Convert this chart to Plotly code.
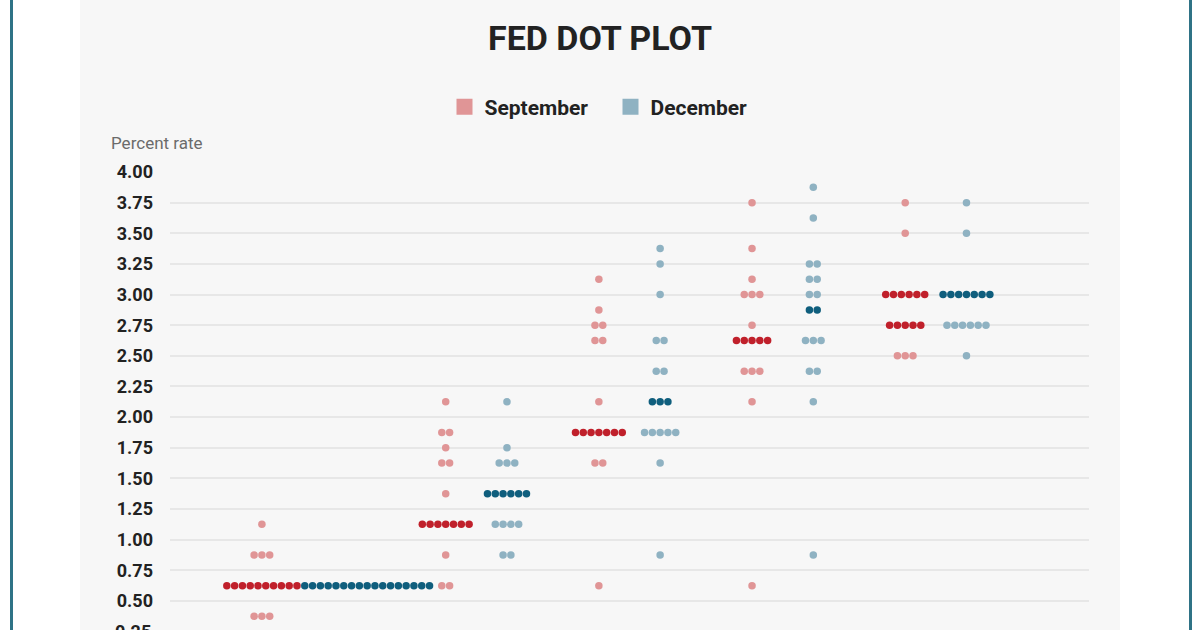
import plotly.graph_objects as go

# ---------------- data ----------------
years = ["2016", "2017", "2018", "2019", "Longer run"]

sept_rates = [
    [0.375, 0.625, 0.875, 1.125],
    [0.625, 0.875, 1.125, 1.375, 1.625, 1.75, 1.875, 2.125],
    [0.625, 1.625, 1.875, 2.125, 2.625, 2.75, 2.875, 3.125],
    [0.625, 2.125, 2.375, 2.625, 2.75, 3.0, 3.125, 3.375, 3.75],
    [2.5, 2.75, 3.0, 3.5, 3.75],
]
sept_counts = [
    [3, 10, 3, 1],
    [2, 1, 7, 1, 2, 1, 2, 1],
    [1, 2, 7, 1, 2, 2, 1, 1],
    [1, 1, 3, 5, 1, 3, 1, 1, 1],
    [3, 5, 6, 1, 1],
]
dec_rates = [
    [0.625],
    [0.875, 1.125, 1.375, 1.625, 1.75, 2.125],
    [0.875, 1.625, 1.875, 2.125, 2.375, 2.625, 3.0, 3.25, 3.375],
    [0.875, 2.125, 2.375, 2.625, 2.875, 3.0, 3.125, 3.25, 3.625, 3.875],
    [2.5, 2.75, 3.0, 3.5, 3.75],
]
dec_counts = [
    [17],
    [2, 4, 6, 3, 1, 1],
    [1, 1, 5, 3, 2, 2, 1, 1, 1],
    [1, 1, 2, 3, 2, 2, 2, 2, 1, 1],
    [1, 6, 7, 1, 1],
]

series_names = ["September", "December"]
light_colors = ["#e09596", "#8fb2c2"]
dark_colors = ["#c0202b", "#0f5e7d"]

# ---------------- layout helpers ----------------
SERIES_OFFSET = 0.2   # Sept left of year centre, Dec right (axis units)
STEP = 0.0509         # horizontal spacing between dots in a row (axis units)


def medians(rates, counts):
    vals = []
    for r, c in zip(rates, counts):
        vals += [r] * c
    vals.sort()
    n = len(vals)
    return {vals[(n - 1) // 2], vals[n // 2]}


def row_span(centre, n):
    return centre - (n - 1) / 2 * STEP, centre + (n - 1) / 2 * STEP


xs = [[], []]
ys = [[], []]
cols = [[], []]
for i in range(len(years)):
    s_map = dict(zip(sept_rates[i], sept_counts[i]))
    d_map = dict(zip(dec_rates[i], dec_counts[i]))
    s_centre = i - SERIES_OFFSET
    d_centre = i + SERIES_OFFSET
    # collision: rows of both series at the same rate would overlap
    collide = [r for r in d_map if r in s_map
               and row_span(s_centre, s_map[r])[1] + STEP > row_span(d_centre, d_map[r])[0]]
    if collide:
        s_centre -= SERIES_OFFSET  # push September column further left
    meds = [medians(sept_rates[i], sept_counts[i]), medians(dec_rates[i], dec_counts[i])]
    for r, c in zip(sept_rates[i], sept_counts[i]):
        start = row_span(s_centre, c)[0]
        for k in range(c):
            xs[0].append(start + k * STEP)
            ys[0].append(r)
            cols[0].append(dark_colors[0] if r in meds[0] else light_colors[0])
    for r, c in zip(dec_rates[i], dec_counts[i]):
        start = row_span(d_centre, c)[0]
        if r in collide:
            start = row_span(s_centre, s_map[r])[1] + STEP  # continue the row
        for k in range(c):
            xs[1].append(start + k * STEP)
            ys[1].append(r)
            cols[1].append(dark_colors[1] if r in meds[1] else light_colors[1])

fig = go.Figure()
for si in range(2):
    fig.add_trace(go.Scatter(
        x=xs[si], y=ys[si], mode="markers", showlegend=False, hoverinfo="skip",
        marker=dict(size=7.5, color=cols[si], line=dict(width=0)),
    ))
# legend entries
for si in range(2):
    fig.add_trace(go.Scatter(
        x=[None], y=[None], mode="markers", name=series_names[si],
        marker=dict(symbol="square", size=17, color=light_colors[si]),
    ))

W, H = 1200, 630
ML, MR, MT, MB = 170, 111, 172, 0
pw = W - ML - MR
ph = H - MT - MB
Y_TOP = 4.0
PX_PER_QUARTER = 30.64
y_bottom = Y_TOP - ph / PX_PER_QUARTER * 0.25


def px_x(p):
    return (p - ML) / pw


def px_y(p):
    return 1 + (MT - p) / ph


fig.update_layout(
    width=W, height=H,
    margin=dict(l=ML, r=MR, t=MT, b=MB, pad=0),
    paper_bgcolor="#ffffff",
    plot_bgcolor="#f7f7f7",
    font=dict(family="Roboto", color="#222222"),
    title=dict(
        text="FED DOT PLOT", x=0.5, xref="container", xanchor="center",
        y=1 - 38 / H, yref="container", yanchor="middle",
        font=dict(family="Roboto", size=34, weight=700, color="#222222"),
    ),
    legend=dict(
        orientation="h", x=0.50875, xref="container", xanchor="center",
        y=1 - 107 / H, yref="container", yanchor="middle",
        font=dict(family="Roboto", size=21, weight=700, color="#222222"),
        itemsizing="trace", entrywidth=121, bgcolor="rgba(0,0,0,0)",
    ),
    xaxis=dict(
        range=[-1, 5], showgrid=False, zeroline=False, showline=False,
        showticklabels=False, ticks="", fixedrange=True,
    ),
    yaxis=dict(
        range=[y_bottom, Y_TOP], tick0=0, dtick=0.25, tickformat=".2f",
        showgrid=True, gridcolor="#e7e7e7", gridwidth=2,
        zeroline=False, showline=False, ticks="", ticklabelstandoff=16,
        tickfont=dict(family="Roboto", size=18, weight=700, color="#222222"),
        fixedrange=True,
    ),
    shapes=[
        dict(type="rect", xref="paper", yref="paper", layer="below",
             x0=px_x(80), x1=px_x(1120), y0=-0.2, y1=1.5,
             fillcolor="#f7f7f7", line=dict(width=0)),
        dict(type="line", xref="paper", yref="paper",
             x0=px_x(11.5), x1=px_x(11.5), y0=-0.2, y1=1.5,
             line=dict(color="#2f7386", width=3)),
        dict(type="line", xref="paper", yref="paper",
             x0=px_x(1190.5), x1=px_x(1190.5), y0=-0.2, y1=1.5,
             line=dict(color="#2f7386", width=3)),
    ],
    annotations=[
        dict(text="Percent rate", xref="paper", yref="paper",
             x=px_x(109), y=px_y(143), xanchor="left", yanchor="middle",
             showarrow=False, font=dict(family="Roboto", size=17, color="#6b6b6b")),
        # partially visible tick label just below the bottom edge of the view
        dict(text="0.25", xref="paper", yref="paper",
             x=px_x(153), y=(0.25 - y_bottom) / (Y_TOP - y_bottom),
             xanchor="right", yanchor="middle", showarrow=False,
             font=dict(family="Roboto", size=18, weight=700, color="#222222")),
    ],
)

fig.write_html(
    "out.html",
    config={"displayModeBar": False},
    post_script="document.body.style.margin='0';document.body.style.overflow='hidden';",
)
